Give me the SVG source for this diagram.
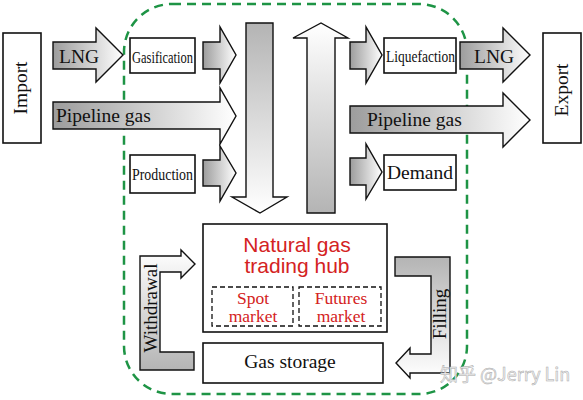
<svg xmlns="http://www.w3.org/2000/svg" width="583" height="400" viewBox="0 0 583 400">
<style>
.box{fill:#fff;stroke:#111;stroke-width:1.6}
.arr{stroke:#111;stroke-width:1.4;stroke-linejoin:miter}
.t{font-family:"Liberation Serif","Times New Roman",serif;fill:#111}
.red{fill:#d42222}
.dbox{fill:none;stroke:#111;stroke-width:1.3;stroke-dasharray:5 3}
</style>
<defs>
<linearGradient id="gh" x1="0" y1="0" x2="1" y2="0"><stop offset="0" stop-color="#9c9c9c"/><stop offset="1" stop-color="#fff"/></linearGradient>
<linearGradient id="gdown" x1="0" y1="0" x2="0" y2="1"><stop offset="0" stop-color="#b4b4b4"/><stop offset="1" stop-color="#fff"/></linearGradient>
<linearGradient id="gup" x1="0" y1="0" x2="0" y2="1"><stop offset="0" stop-color="#fff"/><stop offset="1" stop-color="#b4b4b4"/></linearGradient>
</defs>
<rect x="124" y="4" width="343" height="390" rx="48" ry="48" fill="none" stroke="#1e9445" stroke-width="2.5" stroke-dasharray="9 6"/>
<g id="connectors">
<path class="arr" fill="url(#gh)" d="M53,42 H96 V28 L123,55 L96,82 V69 H53 Z"/>
<path class="arr" fill="url(#gh)" d="M53,102 H220 V88 L236,116 L220,144 V129 H53 Z"/>
<path class="arr" fill="url(#gh)" d="M203,42 H220 V27 L236,55 L220,83 V69 H203 Z"/>
<path class="arr" fill="url(#gh)" d="M203,160 H220 V146 L236,173 L220,201 V186 H203 Z"/>
<path class="arr" fill="url(#gdown)" d="M246,23 H273 V197 H287 L260,213 L232,197 H246 Z"/>
<path class="arr" fill="url(#gup)" d="M307,213 H335 V38 H348 L321,23 L293,38 H307 Z"/>
<path class="arr" fill="url(#gh)" d="M350,42 H366 V27 L382,55 L366,83 V69 H350 Z"/>
<path class="arr" fill="url(#gh)" d="M350,158 H366 V144 L382,172 L366,199 V185 H350 Z"/>
<path class="arr" fill="url(#gh)" d="M460,42 H503 V28 L530,55 L503,82 V69 H460 Z"/>
<path class="arr" fill="url(#gh)" d="M350,106 H503 V93 L530,120 L503,147 V133 H350 Z"/>
<path class="arr" fill="url(#gup)" d="M140,370 H194 V352 H160 V272 H181 V278 L195,264 L181,250 V256 H140 Z"/>
<path class="arr" fill="url(#gdown)" d="M395,257 H450 V373 H410 V378 L396,363 L410,348 V354 H431 V276 H395 Z"/>
<text class="t" x="59" y="63" font-size="19.5">LNG</text>
<text class="t" x="56" y="122" font-size="19.5">Pipeline gas</text>
<text class="t" x="474" y="63" font-size="19.5">LNG</text>
<text class="t" x="367" y="126" font-size="19.5">Pipeline gas</text>
<text class="t" transform="translate(157,308) rotate(-90)" text-anchor="middle" font-size="19">Withdrawal</text>
<text class="t" transform="translate(446,314) rotate(-90)" text-anchor="middle" font-size="19">Filling</text>
</g>
<g id="import"><rect class="box" x="3" y="33" width="38" height="110"/><text class="t" transform="translate(27,88) rotate(-90)" text-anchor="middle" font-size="19.5">Import</text></g>
<g id="export"><rect class="box" x="543" y="33" width="38" height="110"/><text class="t" transform="translate(568,90) rotate(-90)" text-anchor="middle" font-size="19.5">Export</text></g>
<g id="gasification"><rect class="box" x="130" y="38" width="65" height="35"/><text class="t" x="162.5" y="63" text-anchor="middle" font-size="17" textLength="61" lengthAdjust="spacingAndGlyphs">Gasification</text></g>
<g id="production"><rect class="box" x="130" y="155" width="65" height="38"/><text class="t" x="162.5" y="180" text-anchor="middle" font-size="17" textLength="61" lengthAdjust="spacingAndGlyphs">Production</text></g>
<g id="liquefaction"><rect class="box" x="384" y="38" width="72" height="35"/><text class="t" x="420.5" y="62" text-anchor="middle" font-size="17" textLength="69" lengthAdjust="spacingAndGlyphs">Liquefaction</text></g>
<g id="demand"><rect class="box" x="384" y="155" width="72" height="35"/><text class="t" x="420" y="179" text-anchor="middle" font-size="19.5">Demand</text></g>
<g id="hub"><rect class="box" x="203" y="224" width="184" height="108"/>
<text x="297" y="252" text-anchor="middle" font-family="Liberation Sans,Arial,sans-serif" font-size="21" class="red">Natural gas</text>
<text x="297" y="273" text-anchor="middle" font-family="Liberation Sans,Arial,sans-serif" font-size="21" class="red">trading hub</text></g>
<g id="spot"><rect class="dbox" x="212" y="287" width="81" height="39"/><text class="t red" x="253" y="303.5" text-anchor="middle" font-size="17.5">Spot</text><text class="t red" x="253" y="322" text-anchor="middle" font-size="17.5">market</text></g>
<g id="futures"><rect class="dbox" x="299" y="287" width="82" height="39"/><text class="t red" x="341" y="303.5" text-anchor="middle" font-size="17.5">Futures</text><text class="t red" x="341" y="322" text-anchor="middle" font-size="17.5">market</text></g>
<g id="storage"><rect class="box" x="203" y="343" width="180" height="40"/><text class="t" x="290" y="368" text-anchor="middle" font-size="19.5">Gas storage</text></g>
<text x="440" y="381" font-family="Noto Sans CJK SC,Liberation Sans,sans-serif" font-size="18" fill="#f2f2f2" stroke="#aaa" stroke-width="0.5">知乎 @Jerry Lin</text>
</svg>
